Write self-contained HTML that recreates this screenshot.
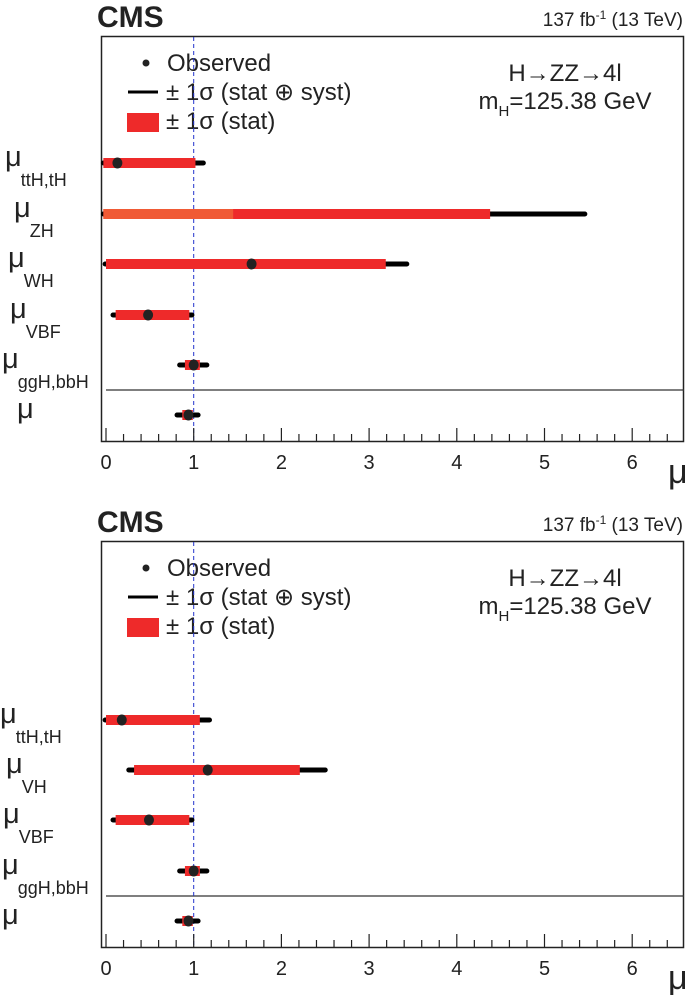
<!DOCTYPE html>
<html><head><meta charset="utf-8"><style>
body{margin:0;background:#fff;}
svg{display:block;font-family:"Liberation Sans",sans-serif;}
</style></head><body>
<svg id="chart" width="685" height="995" viewBox="0 0 685 995"></svg>
<script>
// Panel 1 data
const cats1 = ["ttH,tH","ZH","WH","VBF","ggH,bbH","incl"];
const obs1 = [0.13, null, 1.66, 0.48, 1.00, 0.94];
const statLo1 = [-0.05, -0.05, 0.00, 0.11, 0.90, 0.87];
const statHi1 = [1.02, 4.38, 3.19, 0.95, 1.07, 0.99];
const totLo1 = [-0.05, -0.05, -0.01, 0.08, 0.84, 0.81];
const totHi1 = [1.11, 5.46, 3.43, 0.98, 1.15, 1.05];
// Panel 2 data
const cats2 = ["ttH,tH","VH","VBF","ggH,bbH","incl"];
const obs2 = [0.18, 1.16, 0.49, 1.00, 0.94];
const statLo2 = [0.00, 0.32, 0.11, 0.90, 0.87];
const statHi2 = [1.07, 2.21, 0.95, 1.07, 0.99];
const totLo2 = [-0.01, 0.26, 0.08, 0.84, 0.81];
const totHi2 = [1.18, 2.50, 0.98, 1.15, 1.05];
const xTicks = [0,1,2,3,4,5,6];

const NS="http://www.w3.org/2000/svg";
const svg=document.getElementById('chart');
const X0=106, U=87.7;
function xs(v){return X0+v*U;}
function mk(tag,attrs,parent){const e=document.createElementNS(NS,tag);for(const k in attrs)e.setAttribute(k,attrs[k]);(parent||svg).appendChild(e);return e;}
function txt(s,x,y,size,parent,extra){const t=mk('text',Object.assign({x:x,y:y,'font-size':size,fill:'#222'},extra||{}),parent);t.textContent=s;return t;}

function panel(id,top,bottom,rowsY,sepY,cats,obs,sLo,sHi,tLo,tHi,labels){
  const g=mk('g',{});
  
  
  const cms=txt('CMS',97,top-9,30,g,{'font-weight':'bold'});
  
  
  const lumi=mk('text',{x:683,y:top-10,'font-size':19,fill:'#222','text-anchor':'end'},g);
  lumi.innerHTML='137 fb<tspan dy="-7" font-size="12">-1</tspan><tspan dy="7"> (13 TeV)</tspan>';
  
  
  const fr=mk('rect',{x:101.5,y:top+0.5,width:582,height:bottom-top,fill:'none',stroke:'#222','stroke-width':1.5},g);
  
  
  const lg=mk('g',{},g);
  
  
  mk('circle',{cx:146,cy:top+27,r:3.5,fill:'#222'},lg);
  txt('Observed',167,top+35,24,lg);
  mk('line',{x1:128,x2:158,y1:top+56,y2:top+56,stroke:'#000','stroke-width':3},lg);
  txt('± 1σ (stat ⊕ syst)',166,top+64,24,lg);
  mk('rect',{x:127,y:top+77,width:32,height:19,fill:'#ee2a2a'},lg);
  txt('± 1σ (stat)',166,top+93,24,lg);
  const an=mk('g',{},g);
  
  
  txt('H→ZZ→4l',565,top+45,24,an,{'text-anchor':'middle'});
  const mh=mk('text',{x:565,y:top+73,'font-size':24,fill:'#222','text-anchor':'middle'},an);
  mh.innerHTML='m<tspan dy="7" font-size="15">H</tspan><tspan dy="-7">=125.38 GeV</tspan>';
  const sp=mk('line',{x1:106,x2:684,y1:sepY,y2:sepY,stroke:'#333','stroke-width':1.3},g);
  
  
  const rl=mk('line',{x1:xs(1),x2:xs(1),y1:top+1,y2:bottom,stroke:'#2233cc','stroke-width':1,'stroke-dasharray':'4,3'},g);
  
  
  for(let i=0;i<cats.length;i++){
    const y=rowsY[i];
    const rg=mk('g',{},g);
    
    
    const a=Math.max(tLo[i],-0.03), sa=Math.max(sLo[i],-0.03);
    mk('line',{x1:xs(a),x2:xs(tHi[i]),y1:y,y2:y,stroke:'#000','stroke-width':5,'stroke-linecap':'round'},rg);
    mk('rect',{x:xs(sa),y:y-5,width:xs(sHi[i])-xs(sa),height:10,fill:'#ee2a2a'},rg);
    if(cats[i]==='ZH'){
      mk('rect',{x:xs(sa),y:y-5,width:xs(1.45)-xs(sa),height:10,fill:'#f05a35'},rg);
    }
    if(obs[i]!==null){
      mk('ellipse',{cx:xs(obs[i]),cy:y,rx:5,ry:5.5,fill:'#222'},rg);
    }
    const lab=labels[i];
    const lt=mk('text',{x:lab[0],y:y+3,'font-size':29,fill:'#222'},g);
    lt.innerHTML='μ'+(lab[1]?'<tspan dx="-1" dy="20" font-size="18">'+lab[1]+'</tspan>':'');
    
    
  }
  const ax=mk('g',{},g);
  
  
  for(let k=0;k<=33;k++){
    const v=k*0.2; const x=xs(v); const maj=(k%5===0);
    if(x>683)break;
    mk('line',{x1:x,x2:x,y1:bottom,y2:bottom-(maj?13:7),stroke:'#222','stroke-width':1.2},ax);
  }
  xTicks.forEach(v=>{txt(String(v),xs(v),bottom+28,20,ax,{'text-anchor':'middle'});});
  const at=txt('μ',668,bottom+42,34,g);
  
  
}
panel('top-panel',36,441,[163,214,264,315,365,415],390,cats1,obs1,statLo1,statHi1,totLo1,totHi1,
  [[5,'ttH,tH'],[14,'ZH'],[8,'WH'],[10,'VBF'],[2,'ggH,bbH'],[17,'']]);
panel('bottom-panel',541,947,[720,770,820,871,921],896,cats2,obs2,statLo2,statHi2,totLo2,totHi2,
  [[0,'ttH,tH'],[6,'VH'],[3,'VBF'],[2,'ggH,bbH'],[2,'']]);
</script>
</body></html>
